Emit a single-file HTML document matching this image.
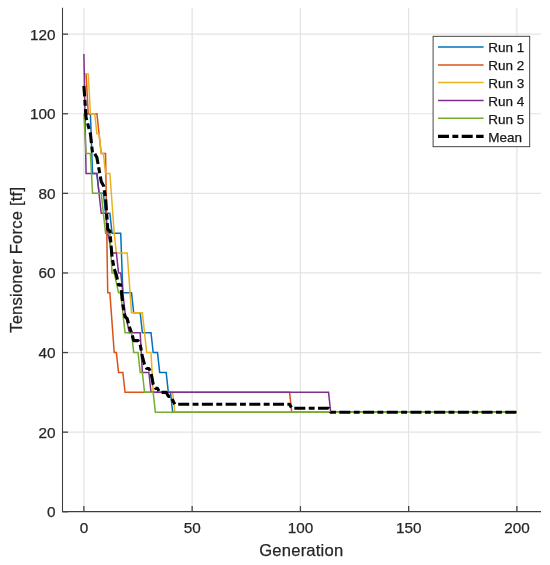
<!DOCTYPE html>
<html><head><meta charset="utf-8"><title>Tensioner Force vs Generation</title>
<style>
html,body{margin:0;padding:0;background:#fff}
body{width:550px;height:565px;position:relative;overflow:hidden;font-family:"Liberation Sans",Arial,sans-serif}
svg text{font-family:"Liberation Sans",Arial,sans-serif;fill:#262626;stroke:#262626;stroke-width:0.25px}
.tk{font-size:15.3px}
.lb{font-size:16.6px;letter-spacing:0.2px}
.lg{font-size:13.5px;fill:#111}
</style></head><body>
<svg width="550" height="565" viewBox="0 0 550 565" style="position:absolute;left:0;top:0">
<rect width="550" height="565" fill="#fff"/>
<line x1="83.90" x2="83.90" y1="7.8" y2="511.6" stroke="#e3e3e3" stroke-width="1.2"/>
<line x1="192.15" x2="192.15" y1="7.8" y2="511.6" stroke="#e3e3e3" stroke-width="1.2"/>
<line x1="300.40" x2="300.40" y1="7.8" y2="511.6" stroke="#e3e3e3" stroke-width="1.2"/>
<line x1="408.65" x2="408.65" y1="7.8" y2="511.6" stroke="#e3e3e3" stroke-width="1.2"/>
<line x1="516.90" x2="516.90" y1="7.8" y2="511.6" stroke="#e3e3e3" stroke-width="1.2"/>
<line x1="62.5" x2="541" y1="432.15" y2="432.15" stroke="#e3e3e3" stroke-width="1.2"/>
<line x1="62.5" x2="541" y1="352.55" y2="352.55" stroke="#e3e3e3" stroke-width="1.2"/>
<line x1="62.5" x2="541" y1="272.95" y2="272.95" stroke="#e3e3e3" stroke-width="1.2"/>
<line x1="62.5" x2="541" y1="193.35" y2="193.35" stroke="#e3e3e3" stroke-width="1.2"/>
<line x1="62.5" x2="541" y1="113.75" y2="113.75" stroke="#e3e3e3" stroke-width="1.2"/>
<line x1="62.5" x2="541" y1="34.15" y2="34.15" stroke="#e3e3e3" stroke-width="1.2"/>
<polyline fill="none" stroke="#0072BD" stroke-width="1.5" stroke-linejoin="miter" points="83.90,113.75 90.40,113.75 92.56,173.45 96.89,173.45 99.06,193.35 103.39,193.35 105.55,213.25 109.88,213.25 112.05,233.15 120.71,233.15 122.87,292.85 131.53,292.85 133.69,312.75 140.19,312.75 142.36,332.65 151.01,332.65 153.18,352.55 157.51,352.55 159.68,372.45 166.17,372.45 168.34,392.35 170.50,392.35 172.67,412.25 516.90,412.25"/>
<polyline fill="none" stroke="#D95319" stroke-width="1.5" stroke-linejoin="miter" points="83.90,73.95 86.07,73.95 88.23,113.75 96.89,113.75 101.22,153.55 105.55,153.55 107.72,292.85 109.88,292.85 114.21,352.55 116.38,352.55 118.54,372.45 122.87,372.45 125.03,392.35 289.58,392.35 291.74,412.25 516.90,412.25"/>
<polyline fill="none" stroke="#EDB120" stroke-width="1.5" stroke-linejoin="miter" points="83.90,73.95 88.23,73.95 90.40,113.75 94.73,113.75 96.89,133.65 99.06,133.65 101.22,153.55 103.39,153.55 105.55,173.45 109.88,173.45 114.21,233.15 116.38,253.05 127.20,253.05 131.53,312.75 142.36,312.75 146.69,352.55 151.01,352.55 153.18,392.35 172.67,392.35 174.83,412.25 516.90,412.25"/>
<polyline fill="none" stroke="#7E2F8E" stroke-width="1.5" stroke-linejoin="miter" points="83.90,54.05 86.07,173.45 96.89,173.45 101.22,213.25 105.55,213.25 107.72,233.15 112.05,253.05 116.38,253.05 118.54,272.95 120.71,272.95 125.03,312.75 129.37,332.65 140.19,332.65 142.36,372.45 148.85,372.45 151.01,392.35 328.55,392.35 330.71,412.25 516.90,412.25"/>
<polyline fill="none" stroke="#77AC30" stroke-width="1.5" stroke-linejoin="miter" points="83.90,113.75 86.07,153.55 90.40,153.55 92.56,193.35 101.22,193.35 105.55,233.15 109.88,233.15 112.05,272.95 114.21,272.95 118.54,292.85 120.71,292.85 125.03,332.65 131.53,332.65 133.69,352.55 138.03,352.55 140.19,372.45 142.36,372.45 144.52,392.35 153.18,392.35 155.35,412.25 516.90,412.25"/>
<polyline fill="none" stroke="#000" stroke-width="3.1" stroke-linejoin="round" stroke-dasharray="11 3.4 5.9 3.4" stroke-dashoffset="0.4" points="83.90,85.89 86.07,117.73 90.40,133.65 92.56,153.55 94.73,153.55 96.89,157.53 101.22,181.41 103.39,185.39 105.55,197.33 107.72,229.17 109.88,231.16 112.05,257.03 114.21,268.97 116.38,274.94 118.54,284.89 120.71,284.89 122.87,304.79 125.03,316.73 127.20,318.72 129.37,326.68 131.53,332.65 133.69,340.61 138.03,340.61 140.19,344.59 142.36,356.53 144.52,364.49 146.69,368.47 148.85,368.47 151.01,372.45 153.18,384.39 155.35,388.37 157.51,388.37 159.68,392.35 166.17,392.35 168.34,396.33 170.50,396.33 174.83,404.29 289.58,404.29 291.74,408.27 328.55,408.27 330.71,412.25 516.90,412.25"/>
<path d="M62.5 7.8V511.6H541" fill="none" stroke="#3c3c3c" stroke-width="1.05"/>
<line x1="83.90" x2="83.90" y1="511.6" y2="506.1" stroke="#444" stroke-width="1.3"/>
<text x="83.90" y="533.3" text-anchor="middle" class="tk">0</text>
<line x1="192.15" x2="192.15" y1="511.6" y2="506.1" stroke="#444" stroke-width="1.3"/>
<text x="192.15" y="533.3" text-anchor="middle" class="tk">50</text>
<line x1="300.40" x2="300.40" y1="511.6" y2="506.1" stroke="#444" stroke-width="1.3"/>
<text x="300.40" y="533.3" text-anchor="middle" class="tk">100</text>
<line x1="408.65" x2="408.65" y1="511.6" y2="506.1" stroke="#444" stroke-width="1.3"/>
<text x="408.65" y="533.3" text-anchor="middle" class="tk">150</text>
<line x1="516.90" x2="516.90" y1="511.6" y2="506.1" stroke="#444" stroke-width="1.3"/>
<text x="516.90" y="533.3" text-anchor="middle" class="tk">200</text>
<line x1="62.5" x2="68.0" y1="511.75" y2="511.75" stroke="#444" stroke-width="1.3"/>
<text x="55.6" y="517.25" text-anchor="end" class="tk">0</text>
<line x1="62.5" x2="68.0" y1="432.15" y2="432.15" stroke="#444" stroke-width="1.3"/>
<text x="55.6" y="437.65" text-anchor="end" class="tk">20</text>
<line x1="62.5" x2="68.0" y1="352.55" y2="352.55" stroke="#444" stroke-width="1.3"/>
<text x="55.6" y="358.05" text-anchor="end" class="tk">40</text>
<line x1="62.5" x2="68.0" y1="272.95" y2="272.95" stroke="#444" stroke-width="1.3"/>
<text x="55.6" y="278.45" text-anchor="end" class="tk">60</text>
<line x1="62.5" x2="68.0" y1="193.35" y2="193.35" stroke="#444" stroke-width="1.3"/>
<text x="55.6" y="198.85" text-anchor="end" class="tk">80</text>
<line x1="62.5" x2="68.0" y1="113.75" y2="113.75" stroke="#444" stroke-width="1.3"/>
<text x="55.6" y="119.25" text-anchor="end" class="tk">100</text>
<line x1="62.5" x2="68.0" y1="34.15" y2="34.15" stroke="#444" stroke-width="1.3"/>
<text x="55.6" y="39.65" text-anchor="end" class="tk">120</text>
<text x="301.3" y="555.6" text-anchor="middle" class="lb">Generation</text>
<text transform="translate(21.7 259.8) rotate(-90)" text-anchor="middle" class="lb">Tensioner Force [tf]</text>
<rect x="433.1" y="36.3" width="96.6" height="110.4" fill="#fff" stroke="#333" stroke-width="0.9"/>
<line x1="438" x2="483.6" y1="47.1" y2="47.1" stroke="#0072BD" stroke-width="1.5"/>
<text x="488.2" y="52.4" class="lg">Run 1</text>
<line x1="438" x2="483.6" y1="64.9" y2="64.9" stroke="#D95319" stroke-width="1.5"/>
<text x="488.2" y="70.2" class="lg">Run 2</text>
<line x1="438" x2="483.6" y1="82.6" y2="82.6" stroke="#EDB120" stroke-width="1.5"/>
<text x="488.2" y="87.9" class="lg">Run 3</text>
<line x1="438" x2="483.6" y1="100.4" y2="100.4" stroke="#7E2F8E" stroke-width="1.5"/>
<text x="488.2" y="105.7" class="lg">Run 4</text>
<line x1="438" x2="483.6" y1="118.2" y2="118.2" stroke="#77AC30" stroke-width="1.5"/>
<text x="488.2" y="123.5" class="lg">Run 5</text>
<line x1="438" x2="483.6" y1="136.4" y2="136.4" stroke="#000" stroke-width="3.1" stroke-dasharray="11 3.4 5.9 3.4 11 3.4 7.5 0"/>
<text x="488.2" y="141.7" class="lg">Mean</text>
</svg>
</body></html>
